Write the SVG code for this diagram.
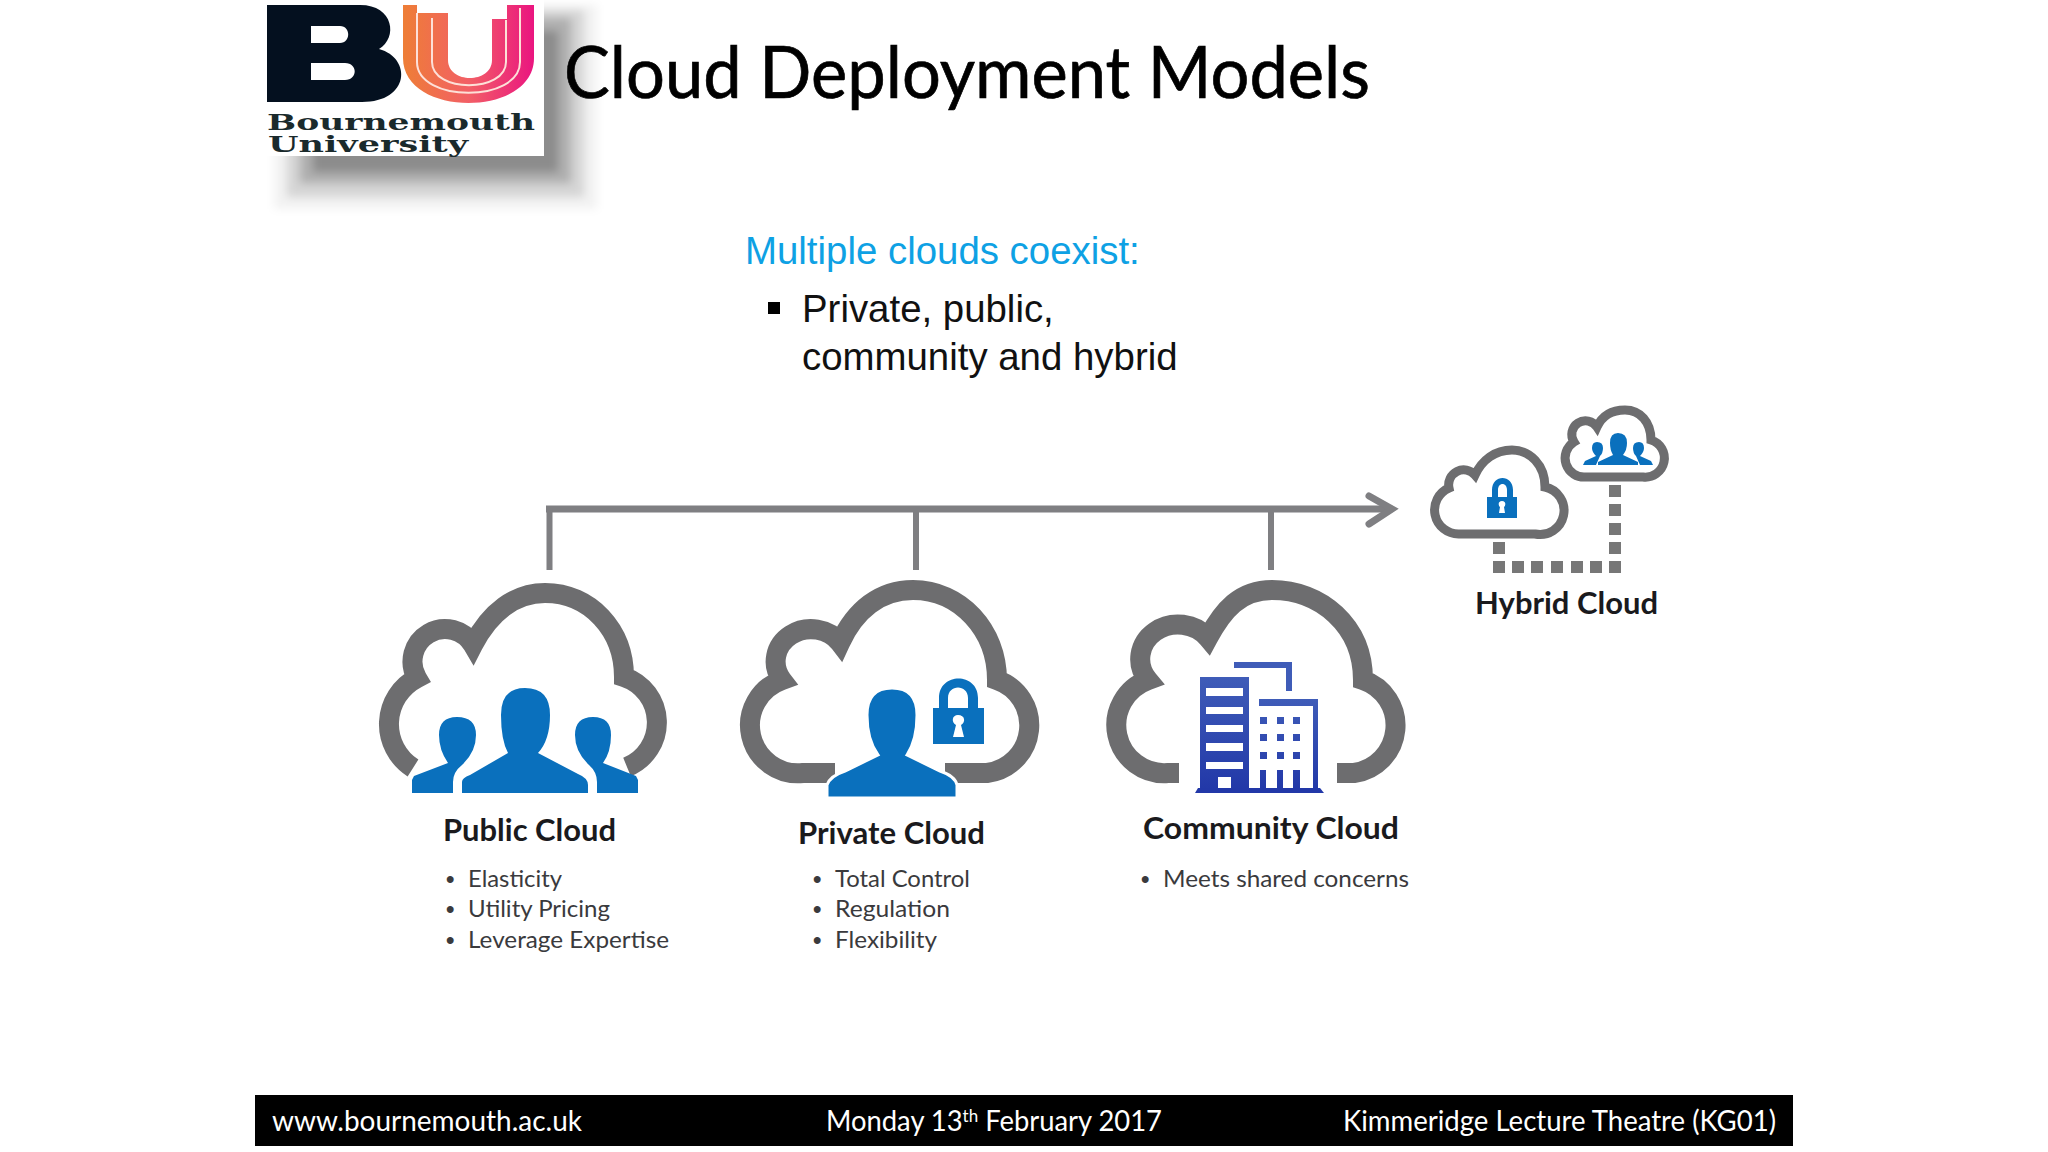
<svg xmlns="http://www.w3.org/2000/svg" width="2048" height="1152" viewBox="0 0 2048 1152">
<defs>
<linearGradient id="u" x1="0" y1="0" x2="1" y2="0"><stop offset="0" stop-color="#ee7e36"/><stop offset=".5" stop-color="#f25f66"/><stop offset="1" stop-color="#ea1580"/></linearGradient>
<linearGradient id="b" x1="0" y1="0" x2="0" y2="1"><stop offset="0" stop-color="#3f5cb8"/><stop offset="1" stop-color="#2238a8"/></linearGradient>
<filter id="blur" x="-10%" y="-10%" width="120%" height="120%"><feGaussianBlur stdDeviation="4"/></filter>
</defs>
<style>
.c{fill:none;stroke:#6d6d6f;stroke-width:20;stroke-linejoin:miter}
.t{fill:none;stroke:#6d6d6f;stroke-width:9;stroke-linejoin:miter}
.s{fill:none;stroke:#7f7f82;stroke-width:6}
.p{fill:#0a70bd}
.h{font-family:Lato,"Open Sans",sans-serif;font-weight:700;font-size:31px;fill:#1a1a1d}
.l{font-family:Lato,"Open Sans",sans-serif;font-size:24px;fill:#3a3a3d}
.d{font-family:"Liberation Sans",Arial,sans-serif;font-weight:700;font-size:24px;fill:#3a3a3d}
.f{font-family:Lato,"Open Sans",sans-serif;font-size:29px;fill:#fff}
.a{font-family:"Liberation Sans",Arial,sans-serif;font-size:38.4px}
.q{font-family:"DejaVu Serif",serif;font-weight:700;font-size:22px;fill:#1a2a2c}
</style>
<rect width="2048" height="1152" fill="#fff"/>
<g id="logo">
<g filter="url(#blur)">
<rect x="274" y="5" width="323" height="204" fill="#000" opacity=".05"/>
<rect x="287" y="10" width="297" height="187" fill="#000" opacity=".12"/>
<rect x="300" y="18" width="271" height="165" fill="#000" opacity=".18"/>
<rect x="313" y="31" width="245" height="141" fill="#000" opacity=".2"/>
</g>
<rect x="250" y="0" width="294" height="156" fill="#fff"/>
<path fill-rule="evenodd" fill="#04101f" d="M267 5H360C394 5 398 38 379 49C412 58 410 102 362 102H267ZM311 26V43H340C351 43 351 26 340 26ZM311 63V80H345C358 80 358 63 345 63Z"/>
<path fill="url(#u)" d="M403 5H417V13H448V60C448 84 492 84 492 60V19H507V5H534V58C534 118 403 118 403 58Z"/>
<path fill="none" stroke="#fde0d8" stroke-width="2" d="M417 13V62C417 103 520 103 520 62V8M432 18V62C432 93 506 93 506 62V20"/>
<text class="q" x="267" y="130" textLength="268" lengthAdjust="spacingAndGlyphs">Bournemouth</text>
<text class="q" x="268" y="152" textLength="200" lengthAdjust="spacingAndGlyphs">University</text>
</g>
<text id="title" x="564" y="98" font-family="Lato,'Open Sans',sans-serif" font-size="72" textLength="806" lengthAdjust="spacingAndGlyphs" fill="#000" stroke="#000" stroke-width=".7">Cloud Deployment Models</text>
<text class="a" x="745" y="264" fill="#0ea1e4">Multiple clouds coexist:</text>
<rect x="768" y="302" width="12" height="12" fill="#000"/>
<text class="a" x="802" y="322" fill="#111">Private, public,</text>
<text class="a" x="802" y="370" fill="#111">community and hybrid</text>

<g id="connectors">
<path class="s" d="M546 509H1392" style="stroke-width:7"/>
<path class="s" d="M549.500 509V570M916 509V570M1271 509V570"/>
<path class="s" d="M1369 496L1392 509L1369 524" style="stroke-width:7;stroke-linecap:round"/>
</g>

<g id="public-cloud">
<path class="c" d="M413 768A52 52 0 0 1 417 678A32 32 0 0 1 473 645C490 612 515 593 545 593C590 593 624 630 624 677A48 48 0 0 1 627 767"/>
<path class="p" d="M462 793V782Q462 778 470 775L508 753Q501 740 501 715Q501 688 525 688Q550 688 550 715Q550 740 538 753L578 774Q588 778 588 785V793Z"/>
<path class="p" d="M412 793V780L414 776L448 763Q439 750 439 735Q439 717 457 717Q476 717 476 735Q476 752 462 765Q453 772 453 782V793Z"/>
<path class="p" d="M638 793V780L636 776L603 763Q611 752 611 735Q611 717 593 717Q575 717 575 735Q575 752 589 765Q597 772 597 782V793Z"/>
<text class="h" x="443" y="841" textLength="173" lengthAdjust="spacingAndGlyphs">Public Cloud</text>
<text class="d" x="446" y="887">•</text><text class="l" x="468" y="887" textLength="94" lengthAdjust="spacingAndGlyphs">Elasticity</text>
<text class="d" x="446" y="917">•</text><text class="l" x="468" y="917" textLength="142" lengthAdjust="spacingAndGlyphs">Utility Pricing</text>
<text class="d" x="446" y="948">•</text><text class="l" x="468" y="948" textLength="201" lengthAdjust="spacingAndGlyphs">Leverage Expertise</text>
</g>

<g id="private-cloud">
<path class="c" d="M835 773H803A48 48 0 0 1 782 680A35 32 0 0 1 840 643C855 610 880 590 913 590C960 590 997 630 997 680A48 48 0 0 1 987 773H945"/>
<path class="p" stroke="#fff" stroke-width="3" d="M827 798V785Q830 776 845 771L878 755Q867 740 867 715Q867 688 892 688Q917 688 917 715Q917 740 907 755L940 771Q955 776 957 785V798Z"/>
<path class="p" fill-rule="evenodd" d="M933 744V708H939V698C939 672 978 672 978 698V708H984V744ZM948 708H968V698C968 684 948 684 948 698ZM953 737H964L961 725C966 722 965 715 958 715C952 715 951 722 956 725Z"/>
<text class="h" x="798" y="844" textLength="187" lengthAdjust="spacingAndGlyphs">Private Cloud</text>
<text class="d" x="813" y="887">•</text><text class="l" x="835" y="887" textLength="135" lengthAdjust="spacingAndGlyphs">Total Control</text>
<text class="d" x="813" y="917">•</text><text class="l" x="835" y="917" textLength="115" lengthAdjust="spacingAndGlyphs">Regulation</text>
<text class="d" x="813" y="948">•</text><text class="l" x="835" y="948" textLength="102" lengthAdjust="spacingAndGlyphs">Flexibility</text>
</g>

<g id="community-cloud">
<path class="c" d="M1179 773H1168A48 48 0 0 1 1148 680A35 32 0 0 1 1208 638C1223 610 1240 590 1272 590C1320 590 1363 625 1363 680A48 48 0 0 1 1354 773H1337"/>
<path fill="url(#b)" fill-rule="evenodd" d="M1200 677H1249V790H1200ZM1206 688V696H1243V688ZM1206 707V714H1243V707ZM1206 725V732H1243V725ZM1206 743V751H1243V743ZM1206 762V769H1243V762ZM1218 777V788H1231V777Z"/>
<path fill="#3f5cb8" d="M1234 662H1292V691H1286V668H1234Z"/>
<path fill="url(#b)" fill-rule="evenodd" d="M1259 699H1318V790H1259ZM1259 706V790H1313V706ZM1260 770H1266V790H1260ZM1277 770H1283V790H1277ZM1293 770H1300V790H1293ZM1260 717h7v7h-7zM1277 717h7v7h-7zM1293 717h7v7h-7zM1260 734h7v7h-7zM1277 734h7v7h-7zM1293 734h7v7h-7zM1260 752h7v7h-7zM1277 752h7v7h-7zM1293 752h7v7h-7z"/>
<path fill="#2238a8" d="M1195 793L1198 788H1320L1324 793Z"/>
<text class="h" x="1143" y="839" textLength="256" lengthAdjust="spacingAndGlyphs">Community Cloud</text>
<text class="d" x="1141" y="887">•</text><text class="l" x="1163" y="887" textLength="246" lengthAdjust="spacingAndGlyphs">Meets shared concerns</text>
</g>

<g id="hybrid-cloud">
<path class="t" d="M1535 534H1459A24 24 0 0 1 1449 488A15 15 0 0 1 1475 475C1482 460 1495 450 1512 450C1530 450 1545 465 1545 487A24 24 0 0 1 1535 534Z"/>
<path class="t" d="M1643 477H1586A19 19 0 0 1 1574 442A13 13 0 0 1 1597 427C1602 416 1612 410 1625 410C1640 410 1651 422 1651 440A19 19 0 0 1 1643 477Z"/>
<path class="p" fill-rule="evenodd" d="M1487 518V497H1492V490C1492 474 1513 474 1513 490V497H1517V518ZM1498 497H1507V490C1507 482 1498 482 1498 490ZM1499 513H1505L1504 507C1506 505 1506 501 1502 501C1498 501 1498 505 1500 507Z"/>
<path class="p" d="M1598 465V462L1613 455Q1610 450 1610 443Q1610 433 1618 433Q1627 433 1627 443Q1627 450 1623 455L1638 462V465Z"/>
<path class="p" d="M1583 465L1585 461L1596 456Q1592 452 1592 448Q1592 442 1597 442Q1603 442 1603 448Q1603 453 1600 456L1596 465Z"/>
<path class="p" d="M1653 465L1651 461L1640 456Q1644 452 1644 448Q1644 442 1639 442Q1633 442 1633 448Q1633 453 1636 456L1640 465Z"/>
<g fill="#777">
<rect x="1493" y="542" width="12" height="12"/><rect x="1493" y="561" width="12" height="12"/>
<rect x="1512" y="561" width="12" height="12"/><rect x="1531" y="561" width="12" height="12"/><rect x="1551" y="561" width="12" height="12"/><rect x="1571" y="561" width="12" height="12"/><rect x="1590" y="561" width="12" height="12"/><rect x="1609" y="561" width="12" height="12"/>
<rect x="1609" y="485" width="12" height="12"/><rect x="1609" y="504" width="12" height="12"/><rect x="1609" y="523" width="12" height="12"/><rect x="1609" y="542" width="12" height="12"/>
</g>
<text class="h" x="1475" y="614" textLength="183" lengthAdjust="spacingAndGlyphs">Hybrid Cloud</text>
</g>

<g id="footer">
<rect x="255" y="1095" width="1538" height="51" fill="#000"/>
<text class="f" x="272" y="1131" textLength="310" lengthAdjust="spacingAndGlyphs">www.bournemouth.ac.uk</text>
<text class="f" x="826" y="1131" textLength="336" lengthAdjust="spacingAndGlyphs">Monday 13<tspan font-size="18" dy="-9">th</tspan><tspan dy="9"> February 2017</tspan></text>
<text class="f" x="1343" y="1131" textLength="433" lengthAdjust="spacingAndGlyphs">Kimmeridge Lecture Theatre (KG01)</text>
</g>
</svg>
